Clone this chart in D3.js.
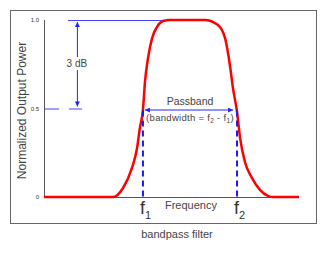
<!DOCTYPE html>
<html>
<head>
<meta charset="utf-8">
<script src="https://cdn.jsdelivr.net/npm/d3@7"></script>
<style>
  body { margin: 0; background: #fff; }
  text { font-family: "Liberation Sans", Arial, sans-serif; fill: #444; }
</style>
</head>
<body>
<div id="chart"></div>
<script>
// response curve (frequency in arbitrary units, power 0..1)
const freq  = [0, 27.1, 31.0, 34.5, 36.5, 37.6, 38.8, 39.6, 40.8, 42.4, 44.3, 46.7, 49.4, 63.1, 68.2, 71.0, 72.9, 74.1, 75.7, 76.9, 78.8, 81.6, 84.7, 87.8, 89.4, 100];
const power = [0, 0,    0.051, 0.164, 0.277, 0.39, 0.492, 0.65, 0.785, 0.898, 0.96, 0.994, 1.0, 1.0, 0.972, 0.898, 0.746, 0.616, 0.48, 0.333, 0.198, 0.107, 0.04, 0.006, 0, 0];

const yTicks = [0, 0.5, 1.0];
const yTickLabels = ["0", "0.5", "1.0"];

const f1 = 38.8, f2 = 75.7;       // half power points
const halfPower = 0.5;
const dbArrowX = 12.9;            // where the 3 dB arrow stands
const topLineStart = 9.4;
const halfLineEnd = 14.9;

const width = 326, height = 257;
const frame = {left: 10, top: 10, right: 316, bottom: 223};
const plot = {left: 44, right: 299, top: 20, bottom: 197};

const svg = d3.select("#chart").append("svg")
    .attr("width", width)
    .attr("height", height);

const defs = svg.append("defs");
["start", "end"].forEach((k) => {
    defs.append("marker")
        .attr("id", "arrow-" + k)
        .attr("viewBox", "0 0 10 10")
        .attr("refX", k === "end" ? 10 : 0)
        .attr("refY", 5)
        .attr("markerWidth", 6)
        .attr("markerHeight", 5)
        .attr("markerUnits", "userSpaceOnUse")
        .attr("orient", "auto")
        .append("path")
        .attr("d", k === "end" ? "M0,0L10,5L0,10Z" : "M10,0L0,5L10,10Z")
        .attr("fill", "#2222ff");
});

// outer frame
svg.append("rect")
    .attr("x", frame.left + 0.5)
    .attr("y", frame.top + 0.5)
    .attr("width", frame.right - frame.left)
    .attr("height", frame.bottom - frame.top)
    .attr("fill", "none")
    .attr("stroke", "#666")
    .attr("stroke-width", 1);

const x = d3.scaleLinear().domain([0, 100]).range([plot.left, plot.right]);
const y = d3.scaleLinear().domain([0, 1]).range([plot.bottom, plot.top]);

// axes lines
svg.append("line")
    .attr("x1", x(0) + 0.5).attr("x2", x(0) + 0.5)
    .attr("y1", y(1)).attr("y2", y(0))
    .attr("stroke", "#555");
svg.append("line")
    .attr("x1", x(0)).attr("x2", x(100))
    .attr("y1", y(0) + 0.5).attr("y2", y(0) + 0.5)
    .attr("stroke", "#555");

svg.selectAll(".ytick")
    .data(yTicks)
    .enter()
    .append("text")
    .attr("class", "ytick")
    .attr("x", x(0) - 5)
    .attr("y", (d) => y(d) + 2)
    .attr("text-anchor", "end")
    .style("font-size", "6px")
    .style("fill", "#333")
    .text((d, i) => yTickLabels[i]);

// y label
svg.append("text")
    .attr("transform", "translate(26," + ((plot.top + plot.bottom) / 2 + 2) + ") rotate(-90)")
    .attr("text-anchor", "middle")
    .style("font-size", "12px")
    .text("Normalized Output Power");

// top reference line and half power dashed line
svg.append("line")
    .attr("x1", x(topLineStart)).attr("x2", x(46.2))
    .attr("y1", y(1) + 0.5).attr("y2", y(1) + 0.5)
    .attr("stroke", "#4444ff");
svg.append("line")
    .attr("x1", x(0)).attr("x2", x(halfLineEnd))
    .attr("y1", y(halfPower) + 0.5).attr("y2", y(halfPower) + 0.5)
    .attr("stroke", "#4444ff")
    .attr("stroke-dasharray", "15,10");

// 3 dB arrow
svg.append("line")
    .attr("x1", x(dbArrowX) + 0.5).attr("x2", x(dbArrowX) + 0.5)
    .attr("y1", y(1) + 2).attr("y2", y(halfPower) - 2)
    .attr("stroke", "#2222ff")
    .attr("marker-start", "url(#arrow-start)")
    .attr("marker-end", "url(#arrow-end)");
svg.append("rect")
    .attr("x", x(dbArrowX) - 12)
    .attr("y", 57)
    .attr("width", 24)
    .attr("height", 13)
    .attr("fill", "#fff");
svg.append("text")
    .attr("x", x(dbArrowX))
    .attr("y", 67)
    .attr("text-anchor", "middle")
    .style("font-size", "10px")
    .text("3 dB");

// response curve
const line = d3.line()
    .x((d, i) => x(freq[i]))
    .y((d) => y(d))
    .curve(d3.curveMonotoneX);

svg.append("path")
    .datum(power)
    .attr("d", line)
    .attr("fill", "none")
    .attr("stroke", "#ff0000")
    .attr("stroke-width", 2.5);

// passband arrow
svg.append("line")
    .attr("x1", x(f1) + 2).attr("x2", x(f2) - 4)
    .attr("y1", y(halfPower) + 1.5).attr("y2", y(halfPower) + 1.5)
    .attr("stroke", "#2222ff")
    .attr("marker-start", "url(#arrow-start)")
    .attr("marker-end", "url(#arrow-end)");

// dashed lines at f1, f2
svg.selectAll(".fline")
    .data([f1, f2])
    .enter()
    .append("line")
    .attr("class", "fline")
    .attr("x1", (d) => x(d)).attr("x2", (d) => x(d))
    .attr("y1", y(halfPower) + 2).attr("y2", y(0))
    .attr("stroke", "#1a1aee")
    .attr("stroke-width", 2)
    .attr("stroke-dasharray", "6,4");

svg.append("text")
    .attr("x", (x(f1) + x(f2)) / 2)
    .attr("y", 105)
    .attr("text-anchor", "middle")
    .style("font-size", "10.5px")
    .text("Passband");

const bw = svg.append("text")
    .attr("x", (x(f1) + x(f2)) / 2)
    .attr("y", 121)
    .attr("text-anchor", "middle")
    .style("font-size", "9.5px")
    .style("letter-spacing", "0.3px");
bw.append("tspan").text("(bandwidth = f");
bw.append("tspan").attr("dy", 2).style("font-size", "6.5px").text("2");
bw.append("tspan").attr("dy", -2).text(" - f");
bw.append("tspan").attr("dy", 2).style("font-size", "6.5px").text("1");
bw.append("tspan").attr("dy", -2).text(")");

// f1, f2 labels
const fLabels = [["1", f1], ["2", f2]];
fLabels.forEach(([sub, f]) => {
    const t = svg.append("text")
        .attr("x", x(f) - 3)
        .attr("y", 214)
        .style("font-size", "18px")
        .style("fill", "#333");
    t.append("tspan").text("f");
    t.append("tspan").attr("dy", 5).style("font-size", "11px").text(sub);
});

svg.append("text")
    .attr("x", (x(f1) + x(f2)) / 2 + 1)
    .attr("y", 209)
    .attr("text-anchor", "middle")
    .style("font-size", "11px")
    .text("Frequency");

svg.append("text")
    .attr("x", 177)
    .attr("y", 238)
    .attr("text-anchor", "middle")
    .style("font-size", "11px")
    .text("bandpass filter");
</script>
</body>
</html>
